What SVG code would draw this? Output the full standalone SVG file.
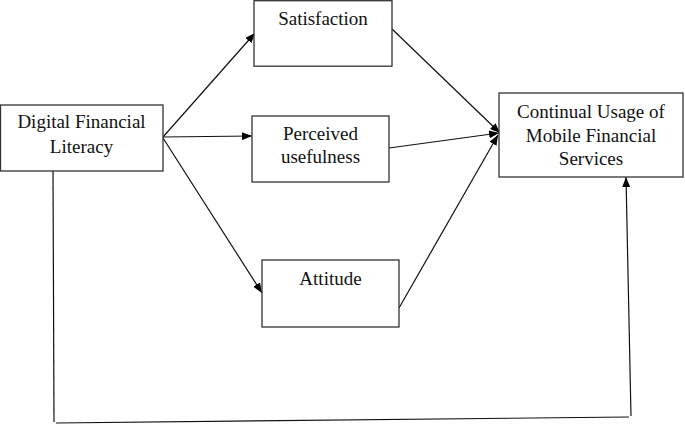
<svg xmlns="http://www.w3.org/2000/svg" width="685" height="424" viewBox="0 0 685 424">
<style>
.box{fill:#fff;stroke:#333;stroke-width:1.3}
.t{font-family:"Liberation Serif","Times New Roman",serif;font-size:19px;fill:#111;text-anchor:middle}
.c{fill:none;stroke:#111;stroke-width:1.2}
</style>
<defs>
<marker id="ah" viewBox="0 0 10 8" refX="10" refY="4" markerWidth="10" markerHeight="8" markerUnits="userSpaceOnUse" orient="auto">
<path d="M0,0 L10,4 L0,8 z" fill="#000"/>
</marker>
</defs>
<g id="connectors">
<line class="c" x1="163" y1="137" x2="255" y2="33" marker-end="url(#ah)"/>
<line class="c" x1="163" y1="137" x2="252" y2="136" marker-end="url(#ah)"/>
<line class="c" x1="163" y1="138" x2="262" y2="293" marker-end="url(#ah)"/>
<line class="c" x1="392" y1="29" x2="500" y2="133" marker-end="url(#ah)"/>
<line class="c" x1="389" y1="148" x2="499" y2="133" marker-end="url(#ah)"/>
<line class="c" x1="399" y1="308" x2="498" y2="135" marker-end="url(#ah)"/>
<line class="c" x1="53" y1="171" x2="54" y2="422"/>
<line class="c" x1="56" y1="423" x2="629" y2="417"/>
<line class="c" x1="631" y1="416" x2="626" y2="177" marker-end="url(#ah)"/>
</g>
<g id="digital">
<rect class="box" x="0.5" y="105" width="162.5" height="66"/>
<text class="t" x="81.5" y="128">Digital Financial</text>
<text class="t" x="81.5" y="153">Literacy</text>
</g>
<g id="satisfaction">
<rect class="box" x="254" y="0.7" width="138" height="65.5"/>
<text class="t" x="323" y="25">Satisfaction</text>
</g>
<g id="perceived">
<rect class="box" x="252" y="116" width="137" height="66"/>
<text class="t" x="320.5" y="140">Perceived</text>
<text class="t" x="320.5" y="163">usefulness</text>
</g>
<g id="attitude">
<rect class="box" x="262" y="260" width="137" height="67"/>
<text class="t" x="330.5" y="285">Attitude</text>
</g>
<g id="continual">
<rect class="box" x="499" y="93" width="184" height="84"/>
<text class="t" x="591" y="118">Continual Usage of</text>
<text class="t" x="591" y="142">Mobile Financial</text>
<text class="t" x="591" y="165">Services</text>
</g>
</svg>
